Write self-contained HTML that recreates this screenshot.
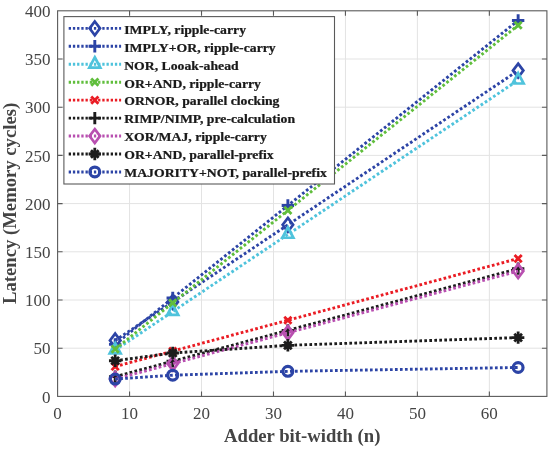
<!DOCTYPE html>
<html><head><meta charset="utf-8"><title>Latency vs adder bit-width</title>
<style>html,body{margin:0;padding:0;background:#fff}svg{display:block}</style></head>
<body>
<svg width="550" height="450" viewBox="0 0 550 450">
<rect width="550" height="450" fill="#fff"/>
<line x1="129.56" y1="10.8" x2="129.56" y2="396.4" stroke="#e3e3e3" stroke-width="1"/>
<line x1="201.52" y1="10.8" x2="201.52" y2="396.4" stroke="#e3e3e3" stroke-width="1"/>
<line x1="273.48" y1="10.8" x2="273.48" y2="396.4" stroke="#e3e3e3" stroke-width="1"/>
<line x1="345.44" y1="10.8" x2="345.44" y2="396.4" stroke="#e3e3e3" stroke-width="1"/>
<line x1="417.40" y1="10.8" x2="417.40" y2="396.4" stroke="#e3e3e3" stroke-width="1"/>
<line x1="489.36" y1="10.8" x2="489.36" y2="396.4" stroke="#e3e3e3" stroke-width="1"/>
<line x1="57.6" y1="348.20" x2="546.9" y2="348.20" stroke="#e3e3e3" stroke-width="1"/>
<line x1="57.6" y1="300.00" x2="546.9" y2="300.00" stroke="#e3e3e3" stroke-width="1"/>
<line x1="57.6" y1="251.80" x2="546.9" y2="251.80" stroke="#e3e3e3" stroke-width="1"/>
<line x1="57.6" y1="203.60" x2="546.9" y2="203.60" stroke="#e3e3e3" stroke-width="1"/>
<line x1="57.6" y1="155.40" x2="546.9" y2="155.40" stroke="#e3e3e3" stroke-width="1"/>
<line x1="57.6" y1="107.20" x2="546.9" y2="107.20" stroke="#e3e3e3" stroke-width="1"/>
<line x1="57.6" y1="59.00" x2="546.9" y2="59.00" stroke="#e3e3e3" stroke-width="1"/>
<polyline points="115.17,340.49 172.74,301.93 287.87,224.81 518.14,70.57" fill="none" stroke="#2c44a6" stroke-width="2.9" stroke-dasharray="2.7 2.3"/>
<path d="M115.17 333.59L120.37 340.49L115.17 347.39L109.97 340.49Z" fill="none" stroke="#2c44a6" stroke-width="2.7" stroke-linejoin="miter"/>
<path d="M172.74 295.03L177.94 301.93L172.74 308.83L167.54 301.93Z" fill="none" stroke="#2c44a6" stroke-width="2.7" stroke-linejoin="miter"/>
<path d="M287.87 217.91L293.07 224.81L287.87 231.71L282.67 224.81Z" fill="none" stroke="#2c44a6" stroke-width="2.7" stroke-linejoin="miter"/>
<path d="M518.14 63.67L523.34 70.57L518.14 77.47L512.94 70.57Z" fill="none" stroke="#2c44a6" stroke-width="2.7" stroke-linejoin="miter"/>
<polyline points="115.17,344.34 172.74,298.07 287.87,205.53 518.14,20.44" fill="none" stroke="#2c44a6" stroke-width="2.9" stroke-dasharray="2.7 2.3"/>
<path d="M108.97 344.34H121.37M115.17 338.14V350.54" fill="none" stroke="#2c44a6" stroke-width="2.9"/>
<path d="M166.54 298.07H178.94M172.74 291.87V304.27" fill="none" stroke="#2c44a6" stroke-width="2.9"/>
<path d="M281.67 205.53H294.07M287.87 199.33V211.73" fill="none" stroke="#2c44a6" stroke-width="2.9"/>
<path d="M511.94 20.44H524.34M518.14 14.24V26.64" fill="none" stroke="#2c44a6" stroke-width="2.9"/>
<polyline points="115.17,350.13 172.74,311.57 287.87,234.45 518.14,80.21" fill="none" stroke="#4fc3dc" stroke-width="2.9" stroke-dasharray="2.7 2.3"/>
<path d="M115.17 343.13L120.67 353.43L109.67 353.43Z" fill="none" stroke="#4fc3dc" stroke-width="2.7" stroke-linejoin="miter"/>
<path d="M172.74 304.57L178.24 314.87L167.24 314.87Z" fill="none" stroke="#4fc3dc" stroke-width="2.7" stroke-linejoin="miter"/>
<path d="M287.87 227.45L293.37 237.75L282.37 237.75Z" fill="none" stroke="#4fc3dc" stroke-width="2.7" stroke-linejoin="miter"/>
<path d="M518.14 73.21L523.64 83.51L512.64 83.51Z" fill="none" stroke="#4fc3dc" stroke-width="2.7" stroke-linejoin="miter"/>
<polyline points="115.17,349.16 172.74,302.89 287.87,210.35 518.14,25.26" fill="none" stroke="#60be3c" stroke-width="2.9" stroke-dasharray="2.7 2.3"/>
<path d="M111.57 345.56L118.77 352.76M111.57 352.76L118.77 345.56" fill="none" stroke="#60be3c" stroke-width="2.8"/>
<path d="M169.14 299.29L176.34 306.49M169.14 306.49L176.34 299.29" fill="none" stroke="#60be3c" stroke-width="2.8"/>
<path d="M284.27 206.75L291.47 213.95M284.27 213.95L291.47 206.75" fill="none" stroke="#60be3c" stroke-width="2.8"/>
<path d="M514.54 21.66L521.74 28.86M514.54 28.86L521.74 21.66" fill="none" stroke="#60be3c" stroke-width="2.8"/>
<polyline points="115.17,366.52 172.74,351.09 287.87,320.24 518.14,258.55" fill="none" stroke="#ea1c24" stroke-width="2.9" stroke-dasharray="2.7 2.3"/>
<path d="M111.57 362.92L118.77 370.12M111.57 370.12L118.77 362.92" fill="none" stroke="#ea1c24" stroke-width="2.8"/>
<path d="M169.14 347.49L176.34 354.69M169.14 354.69L176.34 347.49" fill="none" stroke="#ea1c24" stroke-width="2.8"/>
<path d="M284.27 316.64L291.47 323.84M284.27 323.84L291.47 316.64" fill="none" stroke="#ea1c24" stroke-width="2.8"/>
<path d="M514.54 254.95L521.74 262.15M514.54 262.15L521.74 254.95" fill="none" stroke="#ea1c24" stroke-width="2.8"/>
<polyline points="115.17,376.64 172.74,361.21 287.87,330.37 518.14,268.67" fill="none" stroke="#1c1c1c" stroke-width="2.9" stroke-dasharray="2.7 2.3"/>
<path d="M108.97 376.64H121.37M115.17 370.44V382.84" fill="none" stroke="#1c1c1c" stroke-width="2.9"/>
<path d="M166.54 361.21H178.94M172.74 355.01V367.41" fill="none" stroke="#1c1c1c" stroke-width="2.9"/>
<path d="M281.67 330.37H294.07M287.87 324.17V336.57" fill="none" stroke="#1c1c1c" stroke-width="2.9"/>
<path d="M511.94 268.67H524.34M518.14 262.47V274.87" fill="none" stroke="#1c1c1c" stroke-width="2.9"/>
<polyline points="115.17,379.05 172.74,363.62 287.87,332.78 518.14,271.08" fill="none" stroke="#b84fb0" stroke-width="2.9" stroke-dasharray="2.7 2.3"/>
<path d="M115.17 372.15L120.37 379.05L115.17 385.95L109.97 379.05Z" fill="none" stroke="#b84fb0" stroke-width="2.7" stroke-linejoin="miter"/>
<path d="M172.74 356.72L177.94 363.62L172.74 370.52L167.54 363.62Z" fill="none" stroke="#b84fb0" stroke-width="2.7" stroke-linejoin="miter"/>
<path d="M287.87 325.88L293.07 332.78L287.87 339.68L282.67 332.78Z" fill="none" stroke="#b84fb0" stroke-width="2.7" stroke-linejoin="miter"/>
<path d="M518.14 264.18L523.34 271.08L518.14 277.98L512.94 271.08Z" fill="none" stroke="#b84fb0" stroke-width="2.7" stroke-linejoin="miter"/>
<polyline points="115.17,360.73 172.74,353.02 287.87,345.31 518.14,337.60" fill="none" stroke="#1c1c1c" stroke-width="2.9" stroke-dasharray="2.7 2.3"/>
<path d="M108.97 360.73H121.37M115.17 354.53V366.93M111.32 356.88L119.02 364.58M111.32 364.58L119.02 356.88" fill="none" stroke="#1c1c1c" stroke-width="2.8"/>
<path d="M166.54 353.02H178.94M172.74 346.82V359.22M168.89 349.17L176.59 356.87M168.89 356.87L176.59 349.17" fill="none" stroke="#1c1c1c" stroke-width="2.8"/>
<path d="M281.67 345.31H294.07M287.87 339.11V351.51M284.02 341.46L291.72 349.16M284.02 349.16L291.72 341.46" fill="none" stroke="#1c1c1c" stroke-width="2.8"/>
<path d="M511.94 337.60H524.34M518.14 331.40V343.80M514.29 333.75L521.99 341.45M514.29 341.45L521.99 333.75" fill="none" stroke="#1c1c1c" stroke-width="2.8"/>
<polyline points="115.17,379.05 172.74,375.19 287.87,371.34 518.14,367.48" fill="none" stroke="#2c44a6" stroke-width="2.9" stroke-dasharray="2.7 2.3"/>
<circle cx="115.17" cy="379.05" r="4.9" fill="none" stroke="#2c44a6" stroke-width="3.2"/>
<circle cx="172.74" cy="375.19" r="4.9" fill="none" stroke="#2c44a6" stroke-width="3.2"/>
<circle cx="287.87" cy="371.34" r="4.9" fill="none" stroke="#2c44a6" stroke-width="3.2"/>
<circle cx="518.14" cy="367.48" r="4.9" fill="none" stroke="#2c44a6" stroke-width="3.2"/>
<rect x="57.6" y="10.8" width="489.29999999999995" height="385.59999999999997" fill="none" stroke="#5a5a5a" stroke-width="1.1"/>
<path d="M129.56 396.4v-5M129.56 10.8v5" stroke="#5a5a5a" stroke-width="1.1" fill="none"/>
<path d="M201.52 396.4v-5M201.52 10.8v5" stroke="#5a5a5a" stroke-width="1.1" fill="none"/>
<path d="M273.48 396.4v-5M273.48 10.8v5" stroke="#5a5a5a" stroke-width="1.1" fill="none"/>
<path d="M345.44 396.4v-5M345.44 10.8v5" stroke="#5a5a5a" stroke-width="1.1" fill="none"/>
<path d="M417.40 396.4v-5M417.40 10.8v5" stroke="#5a5a5a" stroke-width="1.1" fill="none"/>
<path d="M489.36 396.4v-5M489.36 10.8v5" stroke="#5a5a5a" stroke-width="1.1" fill="none"/>
<path d="M57.6 348.20h5M546.9 348.20h-5" stroke="#5a5a5a" stroke-width="1.1" fill="none"/>
<path d="M57.6 300.00h5M546.9 300.00h-5" stroke="#5a5a5a" stroke-width="1.1" fill="none"/>
<path d="M57.6 251.80h5M546.9 251.80h-5" stroke="#5a5a5a" stroke-width="1.1" fill="none"/>
<path d="M57.6 203.60h5M546.9 203.60h-5" stroke="#5a5a5a" stroke-width="1.1" fill="none"/>
<path d="M57.6 155.40h5M546.9 155.40h-5" stroke="#5a5a5a" stroke-width="1.1" fill="none"/>
<path d="M57.6 107.20h5M546.9 107.20h-5" stroke="#5a5a5a" stroke-width="1.1" fill="none"/>
<path d="M57.6 59.00h5M546.9 59.00h-5" stroke="#5a5a5a" stroke-width="1.1" fill="none"/>
<g font-family="Liberation Serif, serif" font-size="17" fill="#444444">
<text x="57.60" y="419.4" text-anchor="middle">0</text>
<text x="129.56" y="419.4" text-anchor="middle">10</text>
<text x="201.52" y="419.4" text-anchor="middle">20</text>
<text x="273.48" y="419.4" text-anchor="middle">30</text>
<text x="345.44" y="419.4" text-anchor="middle">40</text>
<text x="417.40" y="419.4" text-anchor="middle">50</text>
<text x="489.36" y="419.4" text-anchor="middle">60</text>
<text x="50.5" y="402.50" text-anchor="end">0</text>
<text x="50.5" y="354.30" text-anchor="end">50</text>
<text x="50.5" y="306.10" text-anchor="end">100</text>
<text x="50.5" y="257.90" text-anchor="end">150</text>
<text x="50.5" y="209.70" text-anchor="end">200</text>
<text x="50.5" y="161.50" text-anchor="end">250</text>
<text x="50.5" y="113.30" text-anchor="end">300</text>
<text x="50.5" y="65.10" text-anchor="end">350</text>
<text x="50.5" y="16.90" text-anchor="end">400</text>
</g>
<text transform="translate(302.2 441.8) scale(1.03 1)" text-anchor="middle" font-family="Liberation Serif, serif" font-weight="bold" font-size="18.15" fill="#444444">Adder bit-width (n)</text>
<text transform="translate(15.5 203.4) rotate(-90) scale(1.03 1)" text-anchor="middle" font-family="Liberation Serif, serif" font-weight="bold" font-size="18.15" fill="#444444">Latency (Memory cycles)</text>
<rect x="63.9" y="16.6" width="270.6" height="167.4" fill="#fff" stroke="#5a5a5a" stroke-width="1.1"/>
<g font-family="Liberation Serif, serif" font-weight="bold" font-size="13.3" fill="#1a1a1a" stroke="#1a1a1a" stroke-width="0.25">
<line x1="68.7" y1="28.35" x2="121.1" y2="28.35" stroke="#2c44a6" stroke-width="2.9" stroke-dasharray="2.3 1.9"/>
<path d="M94.80 21.45L100.00 28.35L94.80 35.25L89.60 28.35Z" fill="none" stroke="#2c44a6" stroke-width="2.7" stroke-linejoin="miter"/>
<text transform="translate(124.2 33.65) scale(1.033 1)">IMPLY, ripple-carry</text>
<line x1="68.7" y1="46.30" x2="121.1" y2="46.30" stroke="#2c44a6" stroke-width="2.9" stroke-dasharray="2.3 1.9"/>
<path d="M88.60 46.30H101.00M94.80 40.10V52.50" fill="none" stroke="#2c44a6" stroke-width="2.9"/>
<text transform="translate(124.2 51.60) scale(1.033 1)">IMPLY+OR, ripple-carry</text>
<line x1="68.7" y1="64.25" x2="121.1" y2="64.25" stroke="#4fc3dc" stroke-width="2.9" stroke-dasharray="2.3 1.9"/>
<path d="M94.80 57.25L100.30 67.55L89.30 67.55Z" fill="none" stroke="#4fc3dc" stroke-width="2.7" stroke-linejoin="miter"/>
<text transform="translate(124.2 69.55) scale(1.033 1)">NOR, Looak-ahead</text>
<line x1="68.7" y1="82.20" x2="121.1" y2="82.20" stroke="#60be3c" stroke-width="2.9" stroke-dasharray="2.3 1.9"/>
<path d="M91.20 78.60L98.40 85.80M91.20 85.80L98.40 78.60" fill="none" stroke="#60be3c" stroke-width="2.8"/>
<text transform="translate(124.2 87.50) scale(1.033 1)">OR+AND, ripple-carry</text>
<line x1="68.7" y1="100.15" x2="121.1" y2="100.15" stroke="#ea1c24" stroke-width="2.9" stroke-dasharray="2.3 1.9"/>
<path d="M91.20 96.55L98.40 103.75M91.20 103.75L98.40 96.55" fill="none" stroke="#ea1c24" stroke-width="2.8"/>
<text transform="translate(124.2 105.45) scale(1.033 1)">ORNOR, parallel clocking</text>
<line x1="68.7" y1="118.10" x2="121.1" y2="118.10" stroke="#1c1c1c" stroke-width="2.9" stroke-dasharray="2.3 1.9"/>
<path d="M88.60 118.10H101.00M94.80 111.90V124.30" fill="none" stroke="#1c1c1c" stroke-width="2.9"/>
<text transform="translate(124.2 123.40) scale(1.033 1)">RIMP/NIMP, pre-calculation</text>
<line x1="68.7" y1="136.05" x2="121.1" y2="136.05" stroke="#b84fb0" stroke-width="2.9" stroke-dasharray="2.3 1.9"/>
<path d="M94.80 129.15L100.00 136.05L94.80 142.95L89.60 136.05Z" fill="none" stroke="#b84fb0" stroke-width="2.7" stroke-linejoin="miter"/>
<text transform="translate(124.2 141.35) scale(1.033 1)">XOR/MAJ, ripple-carry</text>
<line x1="68.7" y1="154.00" x2="121.1" y2="154.00" stroke="#1c1c1c" stroke-width="2.9" stroke-dasharray="2.3 1.9"/>
<path d="M88.60 154.00H101.00M94.80 147.80V160.20M90.95 150.15L98.65 157.85M90.95 157.85L98.65 150.15" fill="none" stroke="#1c1c1c" stroke-width="2.8"/>
<text transform="translate(124.2 159.30) scale(1.033 1)">OR+AND, parallel-prefix</text>
<line x1="68.7" y1="171.95" x2="121.1" y2="171.95" stroke="#2c44a6" stroke-width="2.9" stroke-dasharray="2.3 1.9"/>
<circle cx="94.80" cy="171.95" r="4.9" fill="none" stroke="#2c44a6" stroke-width="3.2"/>
<text transform="translate(124.2 177.25) scale(1.033 1)">MAJORITY+NOT, parallel-prefix</text>
</g>
</svg>
</body></html>
